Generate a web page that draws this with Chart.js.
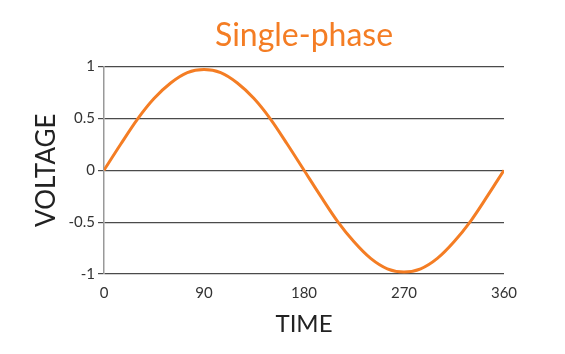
<!DOCTYPE html>
<html>
<head>
<meta charset="utf-8">
<script src="https://cdn.jsdelivr.net/npm/chart.js@4/dist/chart.umd.min.js"></script>
<style>
  html, body { margin: 0; padding: 0; background: #fff; }
  #wrap { width: 565px; height: 354px; }
</style>
</head>
<body>
<div id="wrap"><canvas id="phaseChart"></canvas></div>
<script>
// valores (ângulo em graus, tensão)
const angles = [0, 15, 30, 45, 60, 75, 90, 105, 120, 135, 150, 165, 180,
                195, 210, 225, 240, 255, 270, 285, 300, 315, 330, 345, 360];
const voltage = [0, 0.25, 0.49, 0.69, 0.84, 0.94, 0.97, 0.94, 0.84, 0.69, 0.49, 0.25, 0,
                 -0.25, -0.49, -0.69, -0.85, -0.95, -0.98, -0.95, -0.85, -0.69, -0.49, -0.25, 0];
const yTicks = [-1, -0.5, 0, 0.5, 1];
const xTicks = [0, 90, 180, 270, 360];

const orange = '#f47d24';
const fontFamily = 'Lato, "Open Sans", sans-serif';

const points = angles.map((a, i) => ({ x: a, y: voltage[i] }));

const ctx = document.getElementById('phaseChart').getContext('2d');
new Chart(ctx, {
    type: 'line',
    data: {
        datasets: [{
            data: points,
            borderColor: orange,
            borderWidth: 3,
            pointRadius: 0,
            fill: false,
            cubicInterpolationMode: 'monotone'
        }]
    },
    options: {
        responsive: true,
        maintainAspectRatio: false,
        animation: false,
        layout: { padding: { left: 20, right: 61, top: 0, bottom: 10 } },
        plugins: {
            legend: { display: false },
            tooltip: { enabled: false },
            title: {
                display: true,
                fullSize: false,   // centra o título sobre a área do gráfico
                text: 'Single-phase',
                color: orange,
                font: { family: fontFamily, size: 32, weight: 'normal' },
                padding: { top: 16, bottom: 12 }
            }
        },
        scales: {
            x: {
                type: 'linear',
                min: 0,
                max: 360,
                afterBuildTicks: (scale) => { scale.ticks = xTicks.map(v => ({ value: v })); },
                afterFit: (scale) => { scale.height = 70; },
                grid: { display: false, drawTicks: false },
                border: { display: false },
                ticks: {
                    color: '#333',
                    padding: 10,
                    font: { family: fontFamily, size: 15 },
                    maxRotation: 0
                },
                title: {
                    display: true,
                    text: 'TIME',
                    color: '#222',
                    font: { family: fontFamily, size: 24 },
                    padding: { top: 0, bottom: 5 }
                }
            },
            y: {
                min: -1,
                max: 1,
                afterBuildTicks: (scale) => { scale.ticks = yTicks.map(v => ({ value: v })); },
                afterFit: (scale) => { scale.width = 84; },
                grid: { color: '#4a4a4a', lineWidth: 1.2, tickLength: 6, drawTicks: true },
                border: { display: true, color: '#999', width: 1.5 },
                ticks: {
                    color: '#333',
                    padding: 3,
                    font: { family: fontFamily, size: 15 },
                    callback: (v) => String(v)
                },
                title: {
                    display: true,
                    text: 'VOLTAGE',
                    color: '#222',
                    font: { family: fontFamily, size: 26 },
                    padding: { top: 11, bottom: 0 }
                }
            }
        }
    }
});
</script>
</body>
</html>
